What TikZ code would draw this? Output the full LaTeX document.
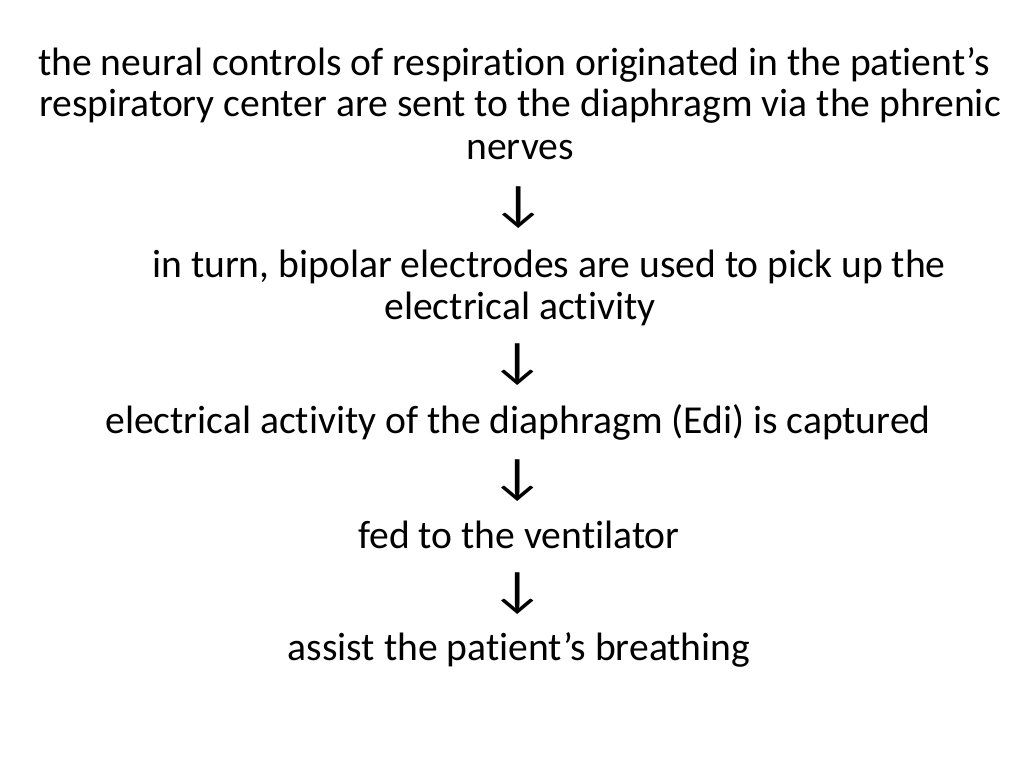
\documentclass[tikz,border=0pt]{standalone}
\usepackage{fontspec}
\usepackage{graphicx}
\setmainfont[RawFeature=-liga]{Carlito}
\begin{document}
\begin{tikzpicture}[x=1pt,y=-1pt,
  line/.style={anchor=base,inner sep=0pt,font=\fontsize{39.6}{46}\selectfont},
  arr/.style={anchor=center,inner sep=0pt,font=\fontsize{50}{54}\selectfont}]
\useasboundingbox[fill=white] (0,0) rectangle (1024,768);
\node[line] (t1) at (514,75) {the neural controls of respiration originated in the patient’s};
\node[line] (t2) at (520,116) {respiratory center are sent to the diaphragm via the phrenic};
\node[line] (t3) at (520,159) {nerves};
\node[arr] (a1) at (519,207.5) {\scalebox{1.2}[1]{↓}};
\node[line,anchor=base west] (t4) at (152,277) {in turn, bipolar electrodes are used to pick up the};
\node[line] (t5) at (520,319) {electrical activity};
\node[arr] (a2) at (518,365) {\scalebox{1.2}[1]{↓}};
\node[line] (t6) at (518,433) {electrical activity of the diaphragm (Edi) is captured};
\node[arr] (a3) at (518,480.5) {\scalebox{1.2}[1]{↓}};
\node[line] (t7) at (519,548) {fed to the ventilator};
\node[arr] (a4) at (518,594) {\scalebox{1.2}[1]{↓}};
\node[line] (t8) at (519,660) {assist the patient’s breathing};
\end{tikzpicture}
\end{document}
